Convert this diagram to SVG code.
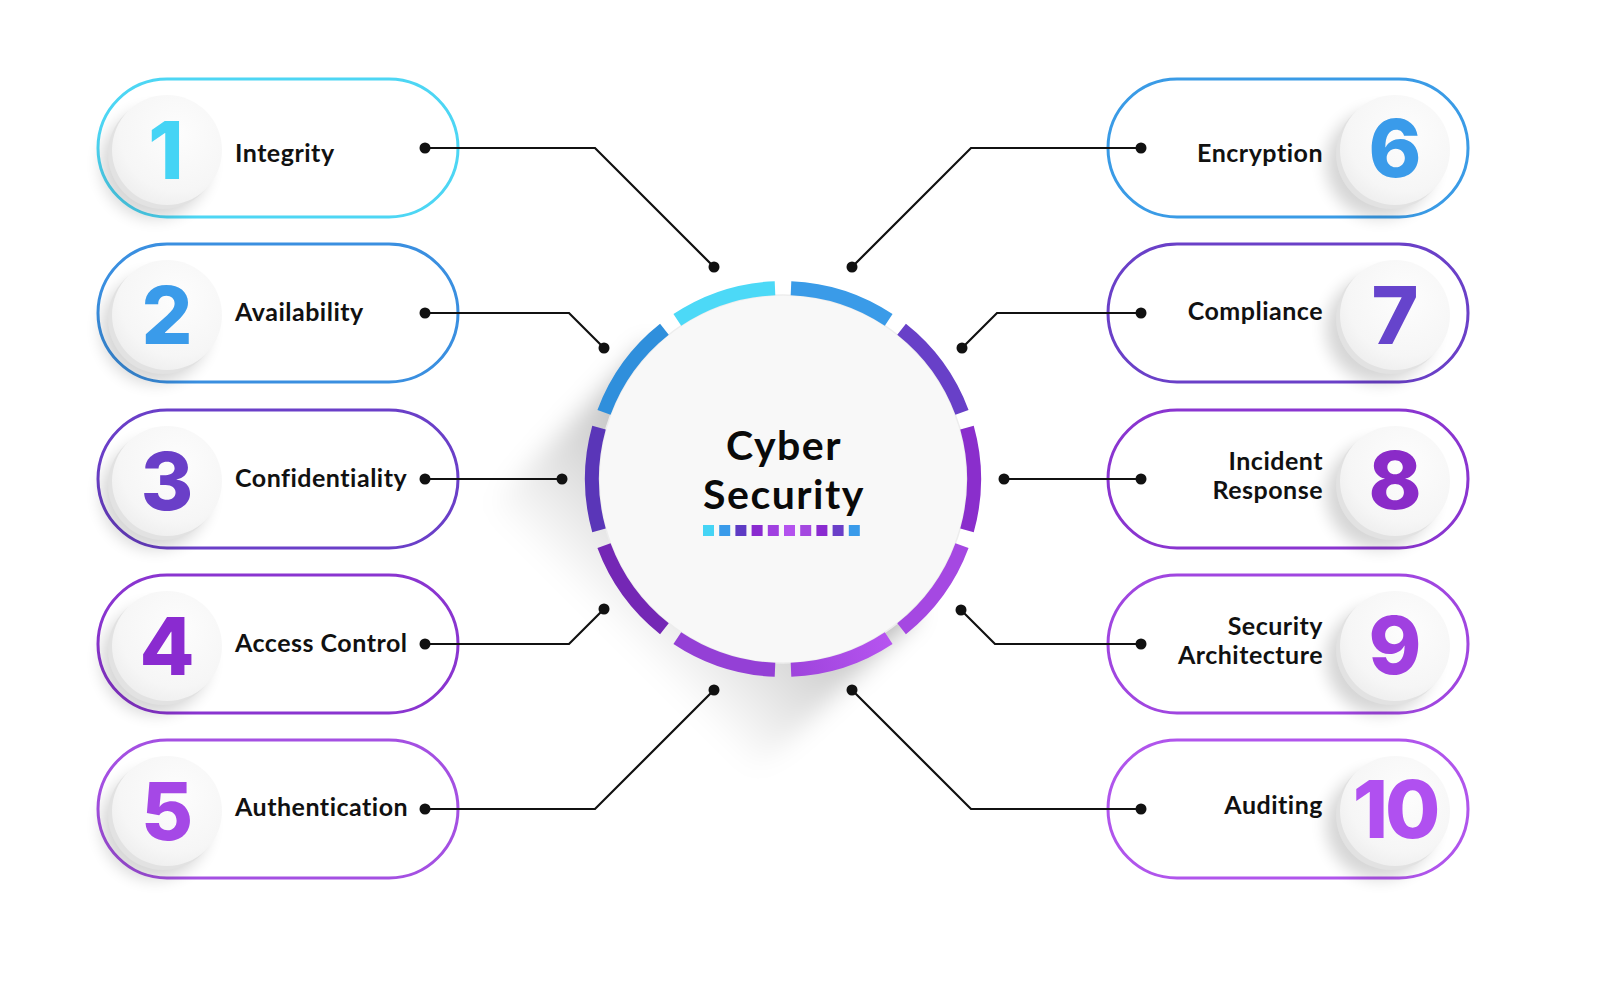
<svg xmlns="http://www.w3.org/2000/svg" width="1600" height="995" viewBox="0 0 1600 995">
  <defs>
    <style>
      .pill { fill: #FFFFFF; stroke-width: 3; }
      .lbl { font-family: "Lato", "Liberation Sans", sans-serif; font-weight: 700; font-size: 25px; letter-spacing: 0.5px; fill: #111111; }
      .num { font-family: "Inter", "Roboto", "Liberation Sans", sans-serif; font-weight: 800; font-size: 80px; text-anchor: middle; }
      .title { font-family: "Lato", "Liberation Sans", sans-serif; font-weight: 700; font-size: 41px; letter-spacing: 1.5px; fill: #0A0A0A; text-anchor: middle; }
      .wire { fill: none; stroke: #111111; stroke-width: 2.2; }
      .dot { fill: #111111; }
      .seg { fill: none; stroke-width: 14; }
      .disc { fill: url(#discFill); }
      .rim { fill: #E2E2E2; }
      .dshadow { fill: #000000; opacity: 0.16; filter: url(#blur8); }
    </style>
    <radialGradient id="discFill" cx="0.6" cy="0.35" r="0.7">
      <stop offset="0" stop-color="#FDFDFD"/>
      <stop offset="0.75" stop-color="#F6F6F6"/>
      <stop offset="1" stop-color="#EEEEEE"/>
    </radialGradient>
    <filter id="blur8" x="-50%" y="-50%" width="200%" height="200%">
      <feGaussianBlur stdDeviation="8"/>
    </filter>
    <filter id="blur14" x="-50%" y="-50%" width="200%" height="200%">
      <feGaussianBlur stdDeviation="12"/>
    </filter>
    <linearGradient id="longShadow" x1="783" y1="479" x2="620" y2="642" gradientUnits="userSpaceOnUse">
      <stop offset="0" stop-color="#000000" stop-opacity="0.32"/>
      <stop offset="1" stop-color="#000000" stop-opacity="0"/>
    </linearGradient>
    <linearGradient id="seg4g" x1="889" y1="638" x2="791" y2="670" gradientUnits="userSpaceOnUse">
      <stop offset="0" stop-color="#B654F0"/>
      <stop offset="1" stop-color="#9E44DC"/>
    </linearGradient>
  </defs>

  <rect x="0" y="0" width="1600" height="995" fill="#FFFFFF"/>

  <!-- Center hub -->
  <g id="hub">
    <path d="M 649,345 L 509,485 A 190 190 0 0 0 777,753 L 917,613 Z" fill="url(#longShadow)" filter="url(#blur14)"/>
    <circle cx="783" cy="479" r="184" fill="#F8F8F8" stroke="#EDEDED" stroke-width="1.5"/>
    <path class="seg" stroke="#3A9BE8" d="M 791.0,288.2 A 191 191 0 0 1 888.7,319.9"/>
    <path class="seg" stroke="#6840C8" d="M 901.6,329.3 A 191 191 0 0 1 962.0,412.4"/>
    <path class="seg" stroke="#8A2ECC" d="M 967.0,427.6 A 191 191 0 0 1 967.0,530.4"/>
    <path class="seg" stroke="#A548E2" d="M 962.0,545.6 A 191 191 0 0 1 901.6,628.7"/>
    <path class="seg" stroke="url(#seg4g)" d="M 888.7,638.1 A 191 191 0 0 1 791.0,669.8"/>
    <path class="seg" stroke="#9440D6" d="M 775.0,669.8 A 191 191 0 0 1 677.3,638.1"/>
    <path class="seg" stroke="#7427B5" d="M 664.4,628.7 A 191 191 0 0 1 604.0,545.6"/>
    <path class="seg" stroke="#5A36B8" d="M 599.0,530.4 A 191 191 0 0 1 599.0,427.6"/>
    <path class="seg" stroke="#2F8FDC" d="M 604.0,412.4 A 191 191 0 0 1 664.4,329.3"/>
    <path class="seg" stroke="#4CD9F7" d="M 677.3,319.9 A 191 191 0 0 1 775.0,288.2"/>
    <text class="title" x="784" y="460">Cyber</text>
    <text class="title" x="784" y="509">Security</text>
    <rect x="703" y="525" width="11" height="11" fill="#45D4F5"/>
    <rect x="719.2" y="525" width="11" height="11" fill="#3A9BEA"/>
    <rect x="735.4" y="525" width="11" height="11" fill="#5E3BC4"/>
    <rect x="751.6" y="525" width="11" height="11" fill="#8A2BD0"/>
    <rect x="767.8" y="525" width="11" height="11" fill="#A040E0"/>
    <rect x="784" y="525" width="11" height="11" fill="#B352EE"/>
    <rect x="800.2" y="525" width="11" height="11" fill="#A448E0"/>
    <rect x="816.4" y="525" width="11" height="11" fill="#8A2BD0"/>
    <rect x="832.6" y="525" width="11" height="11" fill="#6A3FC8"/>
    <rect x="848.8" y="525" width="11" height="11" fill="#3A9BEA"/>
  </g>

  <!-- Left nodes -->
  <g id="node1">
    <rect class="pill" x="98" y="79" width="360" height="138" rx="69" stroke="#4DD6F4"/>
    <circle class="dshadow" cx="155" cy="164" r="54"/>
    <circle class="rim" cx="163" cy="154" r="55"/>
    <circle class="disc" cx="167" cy="150" r="55"/>
    <text class="num" x="166" y="179" fill="#45D4F5">1</text>
    <text class="lbl" x="235" y="162">Integrity</text>
  </g>
  <g id="node2">
    <rect class="pill" x="98" y="244" width="360" height="138" rx="69" stroke="#3A8FE0"/>
    <circle class="dshadow" cx="155" cy="329" r="54"/>
    <circle class="rim" cx="163" cy="319" r="55"/>
    <circle class="disc" cx="167" cy="315" r="55"/>
    <text class="num" x="167" y="344" fill="#3A9BEA">2</text>
    <text class="lbl" x="235" y="321">Availability</text>
  </g>
  <g id="node3">
    <rect class="pill" x="98" y="410" width="360" height="138" rx="69" stroke="#6A3FC8"/>
    <circle class="dshadow" cx="155" cy="495" r="54"/>
    <circle class="rim" cx="163" cy="485" r="55"/>
    <circle class="disc" cx="167" cy="481" r="55"/>
    <text class="num" x="167" y="510" fill="#6A3FC8">3</text>
    <text class="lbl" x="235" y="487">Confidentiality</text>
  </g>
  <g id="node4">
    <rect class="pill" x="98" y="575" width="360" height="138" rx="69" stroke="#8A35D0"/>
    <circle class="dshadow" cx="155" cy="660" r="54"/>
    <circle class="rim" cx="163" cy="650" r="55"/>
    <circle class="disc" cx="167" cy="646" r="55"/>
    <text class="num" x="167" y="675" fill="#8A2BD0">4</text>
    <text class="lbl" x="235" y="652">Access Control</text>
  </g>
  <g id="node5">
    <rect class="pill" x="98" y="740" width="360" height="138" rx="69" stroke="#A450E2"/>
    <circle class="dshadow" cx="155" cy="825" r="54"/>
    <circle class="rim" cx="163" cy="815" r="55"/>
    <circle class="disc" cx="167" cy="811" r="55"/>
    <text class="num" x="167" y="840" fill="#A548E6">5</text>
    <text class="lbl" x="235" y="816">Authentication</text>
  </g>

  <!-- Right nodes -->
  <g id="node6">
    <rect class="pill" x="1108" y="79" width="360" height="138" rx="69" stroke="#3A9BE6"/>
    <circle class="dshadow" cx="1380" cy="164" r="54"/>
    <circle class="rim" cx="1391" cy="154" r="55"/>
    <circle class="disc" cx="1395" cy="150" r="55"/>
    <text class="num" x="1395" y="177" fill="#3A9BEA">6</text>
    <text class="lbl" x="1323" y="162" text-anchor="end">Encryption</text>
  </g>
  <g id="node7">
    <rect class="pill" x="1108" y="244" width="360" height="138" rx="69" stroke="#6A40C8"/>
    <circle class="dshadow" cx="1380" cy="329" r="54"/>
    <circle class="rim" cx="1391" cy="319" r="55"/>
    <circle class="disc" cx="1395" cy="315" r="55"/>
    <text class="num" x="1395" y="344" fill="#6644CC">7</text>
    <text class="lbl" x="1323" y="320" text-anchor="end">Compliance</text>
  </g>
  <g id="node8">
    <rect class="pill" x="1108" y="410" width="360" height="138" rx="69" stroke="#8A35D0"/>
    <circle class="dshadow" cx="1380" cy="495" r="54"/>
    <circle class="rim" cx="1391" cy="485" r="55"/>
    <circle class="disc" cx="1395" cy="481" r="55"/>
    <text class="num" x="1395" y="509" fill="#8A2BC8">8</text>
    <text class="lbl" x="1323" y="470" text-anchor="end">Incident</text>
    <text class="lbl" x="1323" y="499" text-anchor="end">Response</text>
  </g>
  <g id="node9">
    <rect class="pill" x="1108" y="575" width="360" height="138" rx="69" stroke="#A046E0"/>
    <circle class="dshadow" cx="1380" cy="660" r="54"/>
    <circle class="rim" cx="1391" cy="650" r="55"/>
    <circle class="disc" cx="1395" cy="646" r="55"/>
    <text class="num" x="1395" y="674" fill="#A040E0">9</text>
    <text class="lbl" x="1323" y="635" text-anchor="end">Security</text>
    <text class="lbl" x="1323" y="664" text-anchor="end">Architecture</text>
  </g>
  <g id="node10">
    <rect class="pill" x="1108" y="740" width="360" height="138" rx="69" stroke="#B055EC"/>
    <circle class="dshadow" cx="1380" cy="825" r="54"/>
    <circle class="rim" cx="1391" cy="815" r="55"/>
    <circle class="disc" cx="1395" cy="811" r="55"/>
    <text class="num" x="1395" y="838" fill="#B050F0" letter-spacing="-3">10</text>
    <text class="lbl" x="1323" y="814" text-anchor="end">Auditing</text>
  </g>

  <!-- Connectors (drawn on top so the end dots sit inside the pills) -->
  <g id="connectors">
    <polyline class="wire" points="425,148 595,148 714,267"/>
    <polyline class="wire" points="425,313 569,313 604,348"/>
    <polyline class="wire" points="425,479 562,479"/>
    <polyline class="wire" points="425,644 569,644 604,609"/>
    <polyline class="wire" points="425,809 595,809 714,690"/>
    <polyline class="wire" points="1141,148 971,148 852,267"/>
    <polyline class="wire" points="1141,313 997,313 962,348"/>
    <polyline class="wire" points="1141,479 1004,479"/>
    <polyline class="wire" points="1141,644 995,644 961,610"/>
    <polyline class="wire" points="1141,809 971,809 852,690"/>
    <circle class="dot" cx="425" cy="148" r="5.5"/>
    <circle class="dot" cx="714" cy="267" r="5.5"/>
    <circle class="dot" cx="425" cy="313" r="5.5"/>
    <circle class="dot" cx="604" cy="348" r="5.5"/>
    <circle class="dot" cx="425" cy="479" r="5.5"/>
    <circle class="dot" cx="562" cy="479" r="5.5"/>
    <circle class="dot" cx="425" cy="644" r="5.5"/>
    <circle class="dot" cx="604" cy="609" r="5.5"/>
    <circle class="dot" cx="425" cy="809" r="5.5"/>
    <circle class="dot" cx="714" cy="690" r="5.5"/>
    <circle class="dot" cx="1141" cy="148" r="5.5"/>
    <circle class="dot" cx="852" cy="267" r="5.5"/>
    <circle class="dot" cx="1141" cy="313" r="5.5"/>
    <circle class="dot" cx="962" cy="348" r="5.5"/>
    <circle class="dot" cx="1141" cy="479" r="5.5"/>
    <circle class="dot" cx="1004" cy="479" r="5.5"/>
    <circle class="dot" cx="1141" cy="644" r="5.5"/>
    <circle class="dot" cx="961" cy="610" r="5.5"/>
    <circle class="dot" cx="1141" cy="809" r="5.5"/>
    <circle class="dot" cx="852" cy="690" r="5.5"/>
  </g>
</svg>
